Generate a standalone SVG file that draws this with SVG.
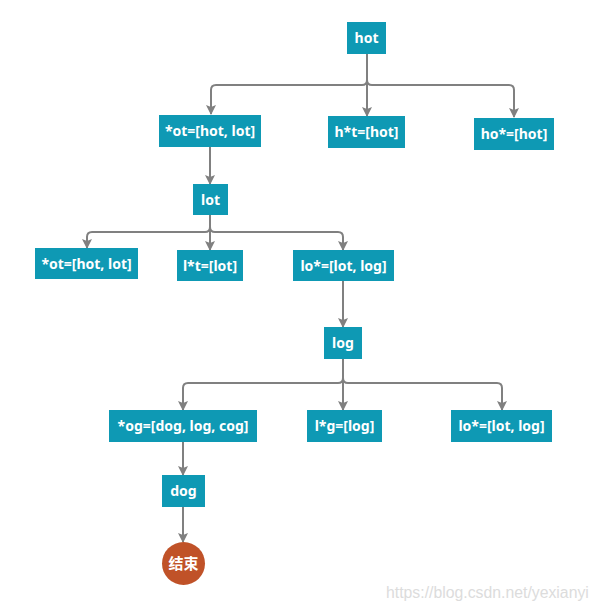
<svg xmlns="http://www.w3.org/2000/svg" width="598" height="611" viewBox="0 0 598 611">
<defs>
<style>
.n{fill:#0e99b4}
.t{fill:#fff;font-family:"Noto Sans","Liberation Sans",sans-serif;font-weight:bold;font-size:14px;text-anchor:middle}
.c{fill:none;stroke:#808080;stroke-width:2;marker-end:url(#ah)}
.wm{fill:#dcdcdc;font-family:"Liberation Sans",Arial,sans-serif;font-size:15.8px}
</style>
<marker id="ah" markerUnits="userSpaceOnUse" markerWidth="10" markerHeight="10" viewBox="0 0 10 10" refX="9" refY="5" orient="auto">
<path d="M0,0 L10,5 L0,10 L2,5 z" fill="#808080"/>
</marker>
</defs>
<rect width="598" height="611" fill="#fff"/>
<g id="connectors">
<path class="c" d="M367,54 V80 Q367,85 362,85 H216 Q211,85 211,90 V114"/>
<path class="c" d="M367,54 V116"/>
<path class="c" d="M367,54 V80 Q367,85 372,85 H509 Q514,85 514,90 V117"/>
<path class="c" d="M210,147 V184"/>
<path class="c" d="M210,215 V227 Q210,232 205,232 H92 Q87,232 87,237 V248"/>
<path class="c" d="M210,215 V250"/>
<path class="c" d="M210,215 V227 Q210,232 215,232 H338 Q343,232 343,237 V250"/>
<path class="c" d="M343,281 V327"/>
<path class="c" d="M343,359 V378 Q343,383 338,383 H188 Q183,383 183,388 V410"/>
<path class="c" d="M343,359 V410"/>
<path class="c" d="M343,359 V378 Q343,383 348,383 H497 Q502,383 502,388 V410"/>
<path class="c" d="M183,442 V475"/>
<path class="c" d="M183,507 V542"/>
</g>
<g id="n-hot"><rect class="n" x="347" y="22" width="39" height="32"/><text class="t" x="366.5" y="43">hot</text></g>
<g id="n-ot1"><rect class="n" x="159" y="115" width="102" height="32"/><text class="t" x="210" y="136">*ot=[hot, lot]</text></g>
<g id="n-ht"><rect class="n" x="328" y="116" width="77" height="32"/><text class="t" x="366.5" y="137">h*t=[hot]</text></g>
<g id="n-ho"><rect class="n" x="474" y="118" width="80" height="32"/><text class="t" x="514" y="139">ho*=[hot]</text></g>
<g id="n-lot"><rect class="n" x="193" y="184" width="35" height="31"/><text class="t" x="210.5" y="204.5">lot</text></g>
<g id="n-ot2"><rect class="n" x="35" y="248" width="103" height="31"/><text class="t" x="86.5" y="268.5">*ot=[hot, lot]</text></g>
<g id="n-lt"><rect class="n" x="177" y="250" width="66" height="31"/><text class="t" x="210" y="270.5">l*t=[lot]</text></g>
<g id="n-lo1"><rect class="n" x="293" y="250" width="101" height="31"/><text class="t" x="343.5" y="270.5">lo*=[lot, log]</text></g>
<g id="n-log"><rect class="n" x="324" y="327" width="38" height="32"/><text class="t" x="343" y="348">log</text></g>
<g id="n-og"><rect class="n" x="109" y="410" width="148" height="32"/><text class="t" x="183" y="431">*og=[dog, log, cog]</text></g>
<g id="n-lg"><rect class="n" x="307" y="410" width="75" height="32"/><text class="t" x="344.5" y="431">l*g=[log]</text></g>
<g id="n-lo2"><rect class="n" x="451" y="410" width="101" height="32"/><text class="t" x="501.5" y="431">lo*=[lot, log]</text></g>
<g id="n-dog"><rect class="n" x="162" y="475" width="43" height="32"/><text class="t" x="183.5" y="496">dog</text></g>
<g id="n-end"><circle cx="183.5" cy="563.5" r="21.5" fill="#c05228"/><text class="t" x="183.5" y="569" style="font-family:'Noto Sans CJK SC','Noto Sans',sans-serif;font-size:15px">结束</text></g>
<text class="wm" x="386" y="598">https://blog.csdn.net/yexianyi</text>
</svg>
